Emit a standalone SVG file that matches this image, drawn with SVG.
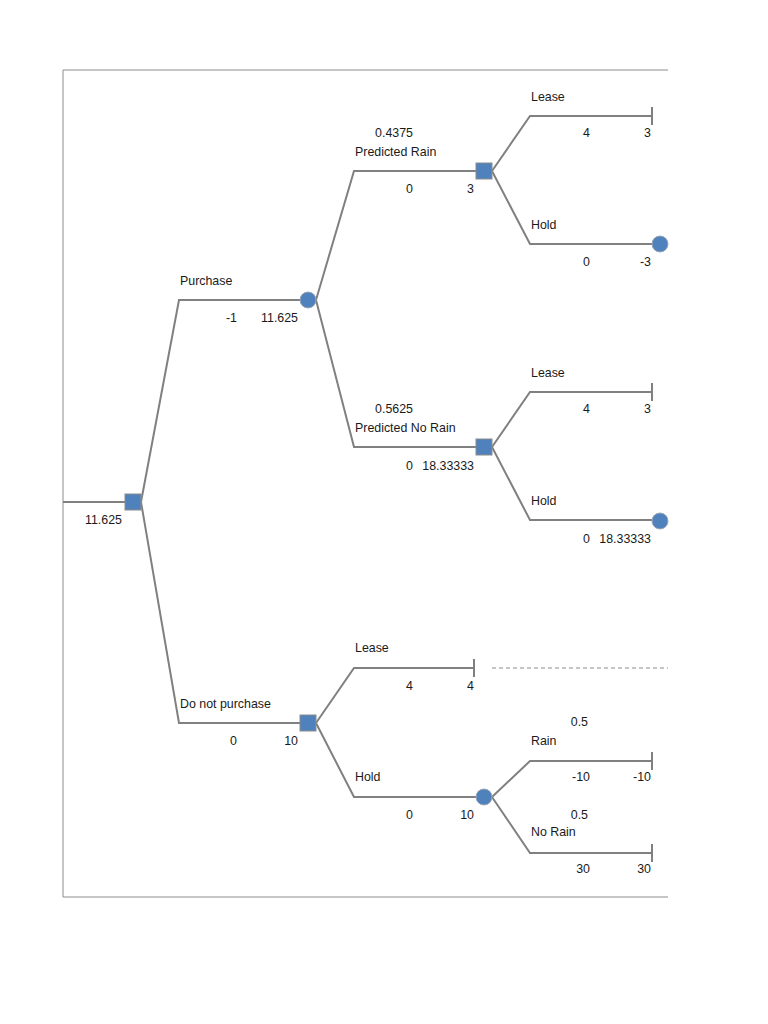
<svg xmlns="http://www.w3.org/2000/svg" width="768" height="1024" viewBox="0 0 768 1024">
<style>
.ln{fill:none;stroke:#808080;stroke-width:2}
.fr{fill:none;stroke:#8c8c8c;stroke-width:1}
.dash{fill:none;stroke:#8c8c8c;stroke-width:1;stroke-dasharray:4 3}
.dec{fill:#4f81bd;stroke:#8c8c8c;stroke-width:1}
.chn{fill:#4f81bd;stroke:#9aa7b8;stroke-width:1}
text{font-family:"Liberation Sans",Arial,sans-serif;font-size:12.4px;fill:#1a1a1a}
.r{text-anchor:end}
</style>
<rect width="768" height="1024" fill="#fff"/>
<path class="fr" d="M668,70 H63 V897 H668"/>
<g id="connectors">
<path class="ln" d="M63,502 H125"/>
<path class="ln" d="M141,502 L179,300 H300"/>
<path class="ln" d="M141,502 L179,723 H300"/>
<path class="ln" d="M316,300 L354,171 H476"/>
<path class="ln" d="M316,300 L354,447 H476"/>
<path class="ln" d="M492,171 L530,116 H652 M652,107 V125"/>
<path class="ln" d="M492,171 L530,244 H652"/>
<path class="ln" d="M492,447 L530,392 H652 M652,383 V401"/>
<path class="ln" d="M492,447 L530,520 H652"/>
<path class="ln" d="M316,723 L354,668 H474 M474,659 V677"/>
<path class="dash" d="M492,668 H668"/>
<path class="ln" d="M316,723 L354,797 H476"/>
<path class="ln" d="M492,797 L530,761 H652 M652,752 V770"/>
<path class="ln" d="M492,797 L530,853 H652 M652,844 V862"/>
</g>
<g id="root"><rect class="dec" x="125" y="494" width="16" height="16"/><text x="85" y="524">11.625</text></g>
<g id="purchase"><circle class="chn" cx="308" cy="300" r="8"/><text x="180" y="285">Purchase</text><text class="r" x="237" y="322">-1</text><text class="r" x="298" y="322">11.625</text></g>
<g id="pred-rain"><rect class="dec" x="476" y="163" width="16" height="16"/><text class="r" x="413" y="137">0.4375</text><text x="355" y="156">Predicted Rain</text><text class="r" x="413" y="193">0</text><text class="r" x="474" y="193">3</text></g>
<g id="pr-lease"><text x="531" y="101">Lease</text><text class="r" x="590" y="137">4</text><text class="r" x="651" y="137">3</text></g>
<g id="pr-hold"><circle class="chn" cx="660" cy="244" r="8"/><text x="531" y="229">Hold</text><text class="r" x="590" y="266">0</text><text class="r" x="651" y="266">-3</text></g>
<g id="pred-norain"><rect class="dec" x="476" y="439" width="16" height="16"/><text class="r" x="413" y="413">0.5625</text><text x="355" y="432">Predicted No Rain</text><text class="r" x="413" y="470">0</text><text class="r" x="474" y="470">18.33333</text></g>
<g id="pn-lease"><text x="531" y="377">Lease</text><text class="r" x="590" y="413">4</text><text class="r" x="651" y="413">3</text></g>
<g id="pn-hold"><circle class="chn" cx="660" cy="521" r="8"/><text x="531" y="505">Hold</text><text class="r" x="590" y="543">0</text><text class="r" x="651" y="543">18.33333</text></g>
<g id="no-purchase"><rect class="dec" x="300" y="715" width="16" height="16"/><text x="180" y="708">Do not purchase</text><text class="r" x="237" y="745">0</text><text class="r" x="298" y="745">10</text></g>
<g id="np-lease"><text x="355" y="652">Lease</text><text class="r" x="413" y="690">4</text><text class="r" x="474" y="690">4</text></g>
<g id="np-hold"><circle class="chn" cx="484" cy="797" r="8"/><text x="355" y="781">Hold</text><text class="r" x="413" y="819">0</text><text class="r" x="474" y="819">10</text></g>
<g id="rain"><text class="r" x="588" y="726">0.5</text><text x="531" y="745">Rain</text><text class="r" x="590" y="781">-10</text><text class="r" x="651" y="781">-10</text></g>
<g id="norain"><text class="r" x="588" y="819">0.5</text><text x="531" y="836">No Rain</text><text class="r" x="590" y="873">30</text><text class="r" x="651" y="873">30</text></g>
</svg>
